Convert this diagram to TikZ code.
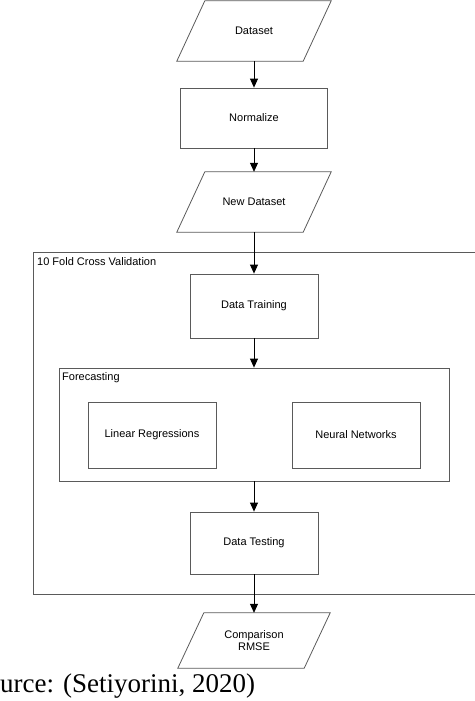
\documentclass[tikz,border=0pt]{standalone}
\usepackage{fontspec}
\setmainfont{Liberation Sans}
\newfontfamily\capfont{Liberation Serif}
\usetikzlibrary{arrows.meta}
\definecolor{edge}{HTML}{5A5A5A}
\tikzset{
  boxnode/.style={draw=edge, line width=0.8pt, minimum width=#1, minimum height=60pt, inner sep=0pt, font=\fontsize{11}{13}\selectfont},
  boxnode/.default=128pt,
  ptext/.style={minimum width=126pt, minimum height=60pt, inner sep=0pt, font=\fontsize{11}{13}\selectfont, align=center},
  pline/.style={draw=edge, line width=0.8pt},
  flow/.style={draw=black, line width=0.8pt, -{Triangle[length=9pt,width=8pt]}},
  framelabel/.style={anchor=west, inner sep=0pt, font=\fontsize{11}{13}\selectfont}
}
\begin{document}
\begin{tikzpicture}[x=1pt,y=-1pt]
\useasboundingbox (0,0) rectangle (474,701);
% Dataset
\node[ptext] (ds) at (254,31) {Dataset};
\draw[pline] ([xshift=-14pt]ds.south west) -- ([xshift=-14pt]ds.south east) -- ([xshift=14pt]ds.north east) -- ([xshift=14pt]ds.north west) -- cycle;
% Normalize
\node[boxnode=147pt] (norm) at (254,118) {Normalize};
% New Dataset
\node[ptext] (nds) at (254,202) {New Dataset};
\draw[pline] ([xshift=-14pt]nds.south west) -- ([xshift=-14pt]nds.south east) -- ([xshift=14pt]nds.north east) -- ([xshift=14pt]nds.north west) -- cycle;
% Outer frame
\draw[pline] (480,252) -- (33,252) -- (33,594) -- (480,594);
\node[framelabel] (cvlabel) at (37,262) {10 Fold Cross Validation};
% Data Training
\node[boxnode, minimum height=64pt] (train) at (254,306) {Data Training};
% Forecasting frame
\node[draw=edge, line width=0.8pt, minimum width=390pt, minimum height=113pt, inner sep=0pt] (fc) at (254,424.5) {};
\node[framelabel] (fclabel) at (62,378) {Forecasting};
\node[boxnode, minimum height=66pt] (lr) at (152,435) {Linear Regressions};
\node[boxnode, minimum height=66pt] (nn) at (356,435) {Neural Networks};
% Data Testing
\node[boxnode, minimum height=62pt] (test) at (254,543) {Data Testing};
% Comparison RMSE
\node[ptext, minimum height=55pt] (cmp) at (254,640.5) {Comparison\\[-1pt]RMSE};
\draw[pline] ([xshift=-13pt]cmp.south west) -- ([xshift=-13pt]cmp.south east) -- ([xshift=13pt]cmp.north east) -- ([xshift=13pt]cmp.north west) -- cycle;
% Arrows
\draw[flow] (ds.south) -- (norm.north);
\draw[flow] (norm.south) -- (nds.north);
\draw[flow] (nds.south) -- (train.north);
\draw[flow] (train.south) -- (fc.north);
\draw[flow] (fc.south) -- (test.north);
\draw[flow] (test.south) -- (cmp.north);
% Caption
\node[anchor=base west, inner sep=0pt, font=\capfont\fontsize{27}{30}\selectfont] (cap) at (0,692) {urce: (Setiyorini, 2020)};
\end{tikzpicture}
\end{document}
